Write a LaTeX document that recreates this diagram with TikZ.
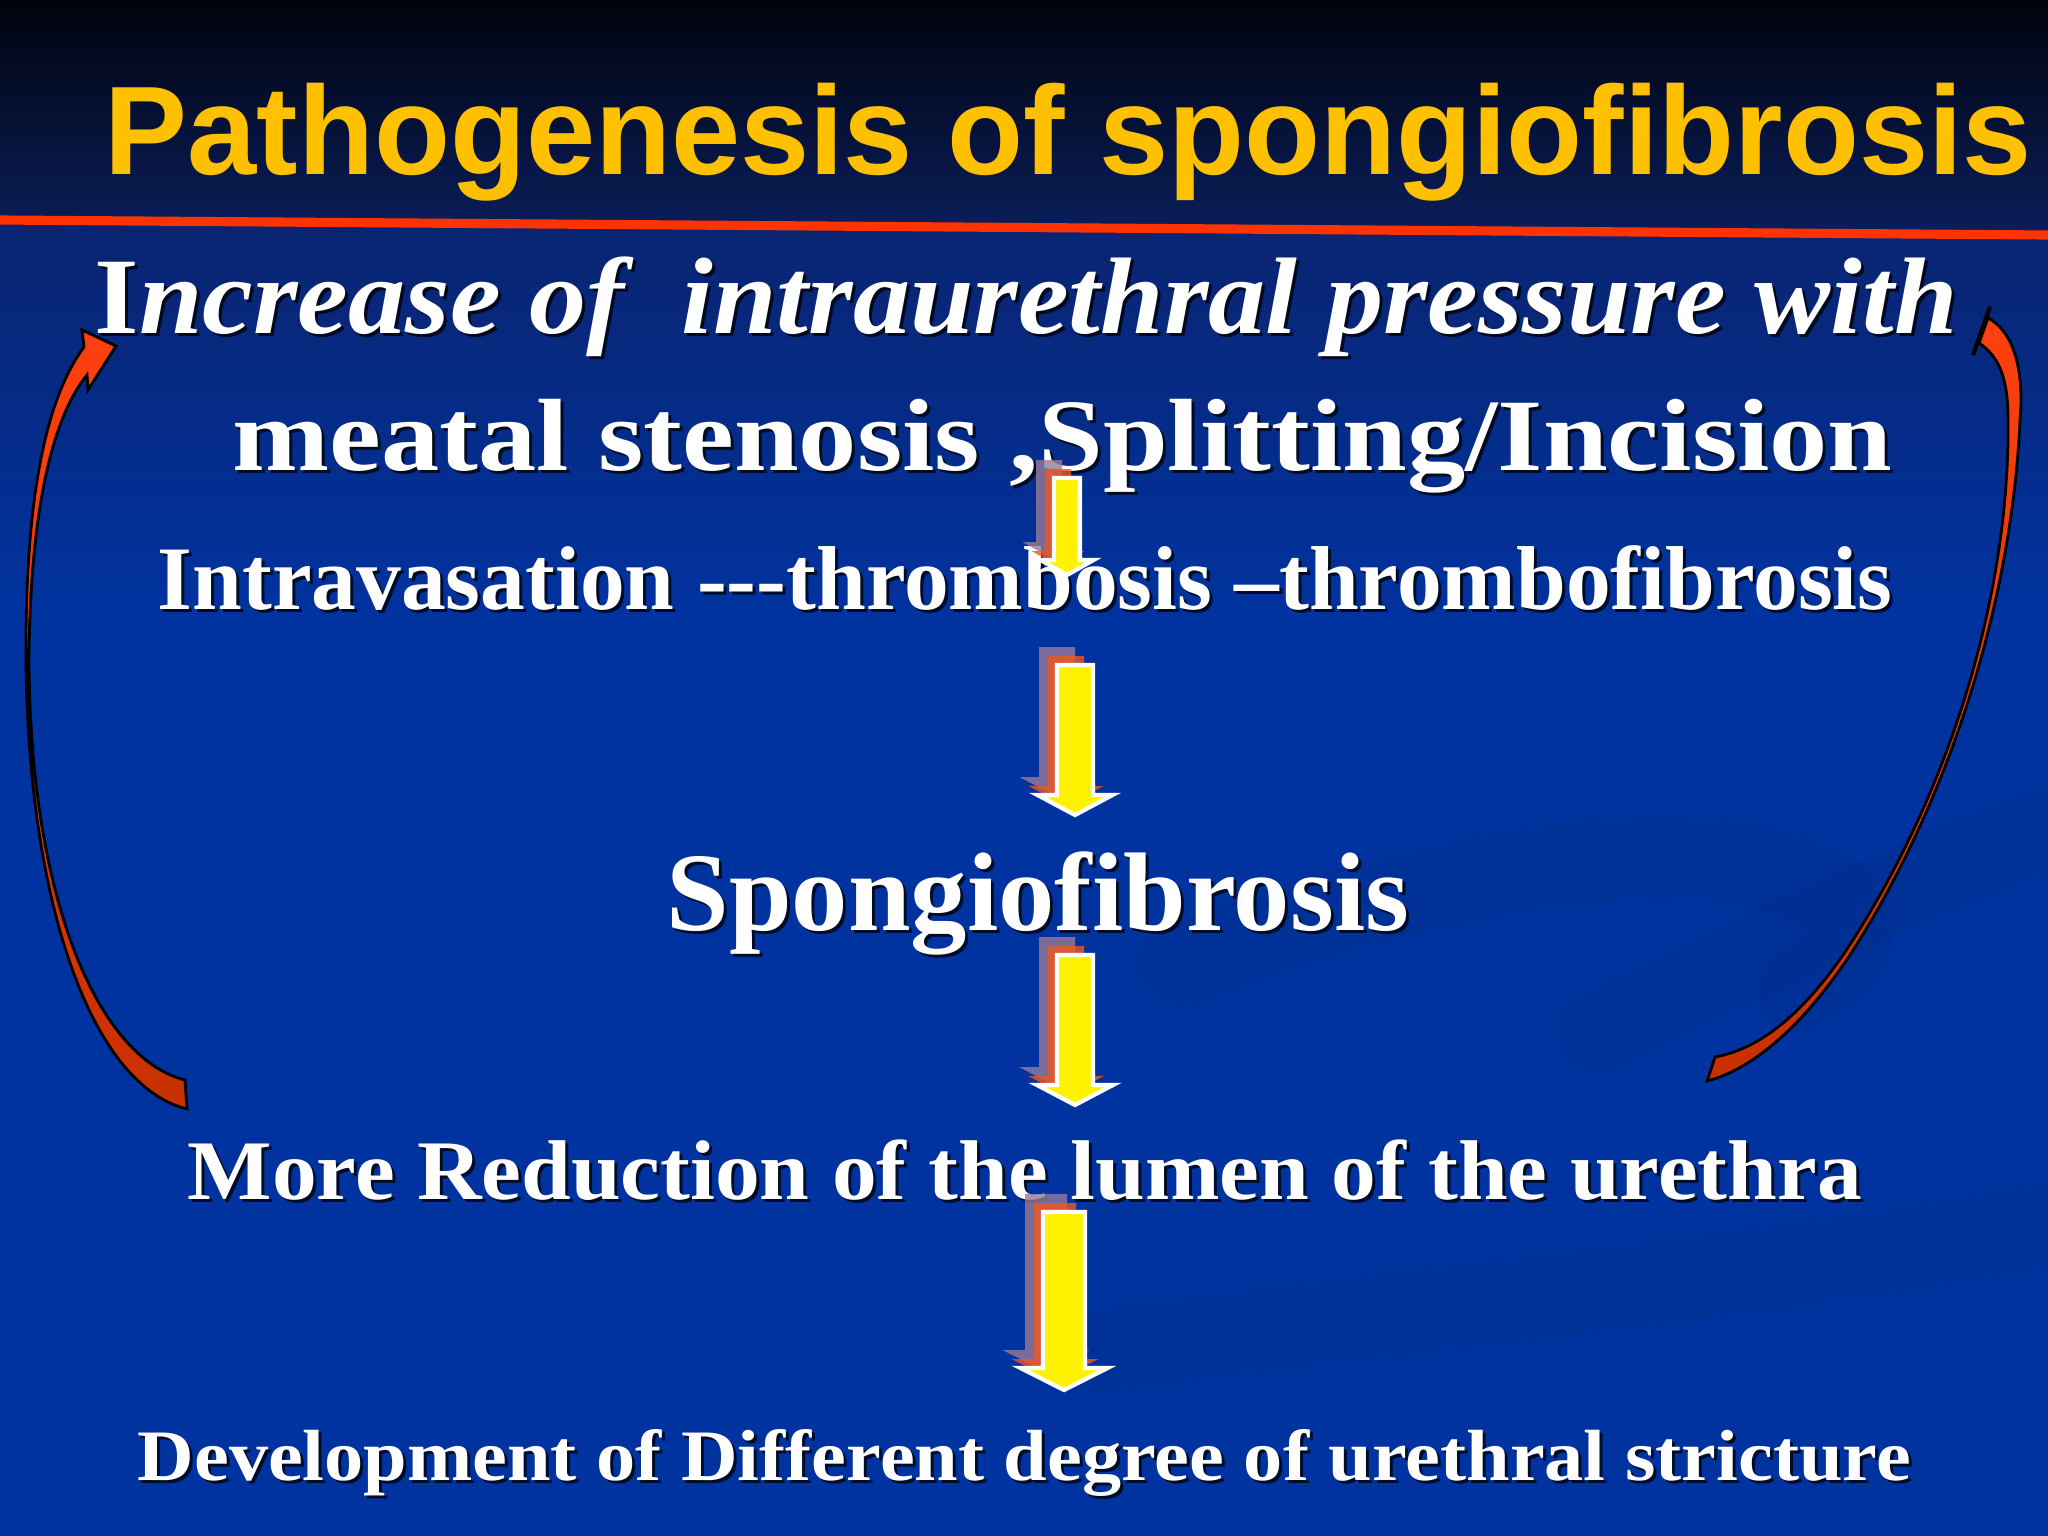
\documentclass[tikz,border=0pt]{standalone}
\usepackage{fontspec}
\setmainfont{Liberation Serif}
\newfontfamily\ttlfont{Liberation Sans}
\usepackage{graphicx}
\newsavebox\fitbox
\newlength\fitlen
\newcommand\fitw[2]{\sbox\fitbox{#2}\setlength\fitlen{\wd\fitbox}\pgfmathsetmacro\fitfac{#1*0.284528/\fitlen}\scalebox{\fitfac}[1]{\usebox\fitbox}}
\definecolor{bgA}{HTML}{01030C}
\definecolor{bgB}{HTML}{0A1E5C}
\definecolor{bgC}{HTML}{0A2470}
\definecolor{bgD}{HTML}{0033A0}
\definecolor{ttl}{HTML}{FFC000}
\definecolor{redline}{HTML}{FF3300}
\definecolor{arcTop}{HTML}{FF4010}
\definecolor{arcBot}{HTML}{C83000}
\definecolor{shG}{HTML}{9A7998}
\definecolor{shR}{HTML}{F05720}
\tikzset{
  txt/.style={anchor=base west, inner sep=0pt, text=white},
  txtsh/.style={anchor=base west, inner sep=0pt, text=black, opacity=0.75},
  arcshape/.style={top color=arcTop, bottom color=arcBot, draw=black, line width=0.8pt},
  shgrey/.style={fill=shG, opacity=0.8},
  shred/.style={fill=shR, opacity=0.8},
  yarrow/.style={fill=yellow, draw=white, line width=1.2pt},
  swirl/.style={draw=black, opacity=0.04, line width=24pt, line cap=round}
}
\newcommand\shtext[5]{%
  \node[txtsh] at ({#2+3},{#3+3}) {\fitw{#4}{#5}};
  \node[txt] (#1) at (#2,#3) {\fitw{#4}{#5}};}
\newcommand\blockarrow[7]{%
  \coordinate (#1) at (#2,#4);
  \foreach \dx/\dy/\st in {-18/-18/shgrey,-9/-9/shred,0/0/yarrow}{%
    \path[\st] ({#2-#3+\dx},{#4+\dy}) -- ({#2+#3+\dx},{#4+\dy}) -- ({#2+#3+\dx},{#5+\dy})
      -- ({#2+#6+\dx},{#5+\dy}) -- ({#2+\dx},{#7+\dy}) -- ({#2-#6+\dx},{#5+\dy})
      -- ({#2-#3+\dx},{#5+\dy}) -- cycle;}}
\begin{document}
\begin{tikzpicture}[x=0.01cm,y=-0.01cm]
\useasboundingbox (0,0) rectangle (2048,1536);
% background
\shade[top color=bgA, bottom color=bgB] (0,0) -- (2048,0) -- (2048,236) -- (0,221) -- cycle;
\shade[top color=bgC, bottom color=bgD] (0,220) -- (2048,235) -- (2048,620) -- (0,620) -- cycle;
\fill[bgD] (0,619) rectangle (2048,1536);
\draw[swirl] (1180,965) .. controls (1350,900) and (1550,850) .. (1700,860) .. controls (1850,870) and (1900,930) .. (1800,990);
\draw[swirl] (2048,830) .. controls (1900,880) and (1750,960) .. (1600,1030);
\draw[swirl] (1100,1350) .. controls (1500,1300) and (1800,1270) .. (2048,1225);
% title
\node[anchor=base west, inner sep=0pt, text=ttl] (title) at (104,174)
  {\fitw{1926}{\ttlfont\bfseries\fontsize{35.85}{40}\selectfont Pathogenesis of spongiofibrosis}};
\draw[redline, line width=2.6pt] (0,220) -- (2048,235);
% texts
\shtext{l1}{94}{333}{1862}{\fontsize{30.95}{36}\selectfont\bfseries I\itshape ncrease of~~intraurethral pressure with}
\shtext{l2}{232}{470}{1659}{\fontsize{29.2}{34}\selectfont\bfseries meatal stenosis ,Splitting/Incision}
\shtext{l3}{157}{609}{1734}{\fontsize{25.8}{30}\selectfont\bfseries Intravasation -{}-{}-thrombosis –thrombofibrosis}
\shtext{l4}{666}{930}{742}{\fontsize{31.8}{36}\selectfont\bfseries Spongiofibrosis}
\shtext{l5}{187}{1199}{1673}{\fontsize{24.1}{28}\selectfont\bfseries More Reduction of the lumen of the urethra}
\shtext{l6}{137}{1480}{1772}{\fontsize{20.6}{24}\selectfont\bfseries Development of Different degree of urethral stricture}
% curved feedback arrows
\path[arcshape] (187,1109) .. controls (90,1085) and (28,900) .. (26,660)
  .. controls (25,500) and (45,400) .. (84,347) -- (82,330) -- (116,346) -- (88,390) -- (87,375)
  .. controls (50,420) and (30,520) .. (29,660) .. controls (30,900) and (98,1058) .. (185,1080) -- cycle;
\path[arcshape] (1988,318) .. controls (2016,333) and (2024,375) .. (2020,420)
  .. controls (2012,600) and (1950,800) .. (1850,955)
  .. controls (1800,1030) and (1750,1070) .. (1707,1081) -- (1715,1057)
  .. controls (1752,1050) and (1795,1025) .. (1845,952)
  .. controls (1946,800) and (2010,600) .. (2008,420)
  .. controls (2008,380) and (2000,357) .. (1979,343) -- cycle;
\draw[black, line width=1.2pt] (1973,355) -- (1990,307);
% block arrows
\blockarrow{a1}{1067}{13}{478}{560}{26.5}{575}
\blockarrow{a2}{1075}{18}{665}{795}{37.5}{815}
\blockarrow{a3}{1075}{18}{955}{1085}{38}{1105}
\blockarrow{a4}{1064}{21}{1212}{1368}{43.5}{1390}
\end{tikzpicture}
\end{document}
